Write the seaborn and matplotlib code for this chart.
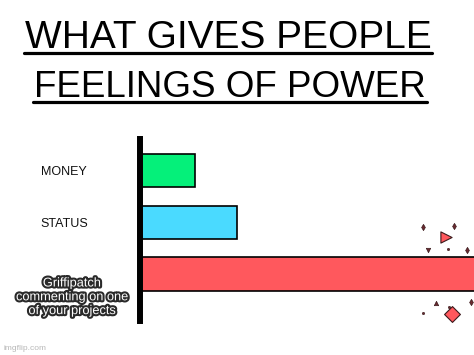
import matplotlib
matplotlib.use("Agg")
import matplotlib.pyplot as plt
import matplotlib.patheffects as pe
from matplotlib.lines import Line2D
from matplotlib.transforms import blended_transform_factory
import seaborn as sns
import pandas as pd

# ---- data ----
categories = ["MONEY", "STATUS", "Griffipatch\ncommenting on one\nof your projects"]
values = [16.5, 29, 150]
bar_colors = ["#05F07A", "#4ADAFF", "#FF585D"]
title_lines = ["WHAT GIVES PEOPLE", "FEELINGS OF POWER"]
watermark = "imgflip.com"
# shards flying off the broken bar (data units)
shard_x = [84.7, 94.0, 86.2, 92.2, 97.9, 88.6, 92.5, 99.1, 84.7]
shard_y = [1.09, 1.07, 1.536, 1.517, 1.536, 2.56, 2.64, 2.54, 2.75]
shard_marker = ["d", "d", "v", ".", "d", "^", ".", "d", "."]
big_shard_x = [91.6, 93.4]
big_shard_y = [1.285, 2.77]
big_shard_marker = [">", "D"]

sns.set_style("white")
plt.rcParams["font.family"] = ["Liberation Sans", "DejaVu Sans"]

W, H = 474, 355
fig = plt.figure(figsize=(W / 100, H / 100), dpi=100)
fig.patch.set_facecolor("white")

ax = fig.add_axes([140 / W, 1 - 321 / H, (W - 140) / W, (321 - 139) / H])
df = pd.DataFrame({"cat": categories, "val": values})
sns.barplot(data=df, x="val", y="cat", hue="cat", palette=bar_colors, legend=False,
            orient="h", width=0.64, edgecolor="black", linewidth=1.2,
            saturation=1, ax=ax)
ax.set_xlim(0, 100)
ax.set_ylim(2.908, -0.609)
for s in ["top", "right", "bottom"]:
    ax.spines[s].set_visible(False)
ax.spines["left"].set_linewidth(4.3)
ax.spines["left"].set_color("black")
ax.set_xticks([])
ax.set_yticks([])
ax.set_xlabel("")
ax.set_ylabel("")
ax.set_facecolor("none")

# shards
for x, y, m in zip(shard_x, shard_y, shard_marker):
    ax.scatter([x], [y], marker=m, s=10, color="#6b2a30", edgecolor="#3a1a1c",
               linewidth=0.5, zorder=5, clip_on=False)
for x, y, m in zip(big_shard_x, big_shard_y, big_shard_marker):
    ax.scatter([x], [y], marker=m, s=65, color="#FF585D", edgecolor="#3a1a1c",
               linewidth=0.8, zorder=5, clip_on=False)

# category labels
tr = blended_transform_factory(fig.transFigure, ax.transData)
for i, cat in enumerate(categories):
    if i < 2:
        ax.text(64 / W, i + 0.03, cat, transform=tr, ha="center", va="center",
                fontsize=9, color="#111111")
    else:
        ax.text(72 / W, i + 0.45, cat, transform=tr, ha="center", va="center",
                fontsize=9.2, color="white", linespacing=1.2,
                path_effects=[pe.withStroke(linewidth=3, foreground="#2a2a2a")])

# title lines with underline
fig.canvas.draw()
renderer = fig.canvas.get_renderer()
baselines = [48, 97]
centers = [228, 230]
sizes = [28, 26.5]
for line, b, cx, fs in zip(title_lines, baselines, centers, sizes):
    t = fig.text(cx / W, 1 - b / H, line, ha="center", va="baseline",
                 fontsize=fs, color="black")
    bb = t.get_window_extent(renderer)
    uy = 1 - (b + 4.5) / H
    fig.add_artist(Line2D([bb.x0 / W - 1 / W, bb.x1 / W + 1 / W], [uy, uy],
                          transform=fig.transFigure, color="black", linewidth=2.3))

fig.text(4 / W, 1 - 349 / H, watermark, ha="left", va="center", fontsize=6,
         color="#b8b8b8")

fig.savefig("out.png", dpi=100, facecolor="white")
